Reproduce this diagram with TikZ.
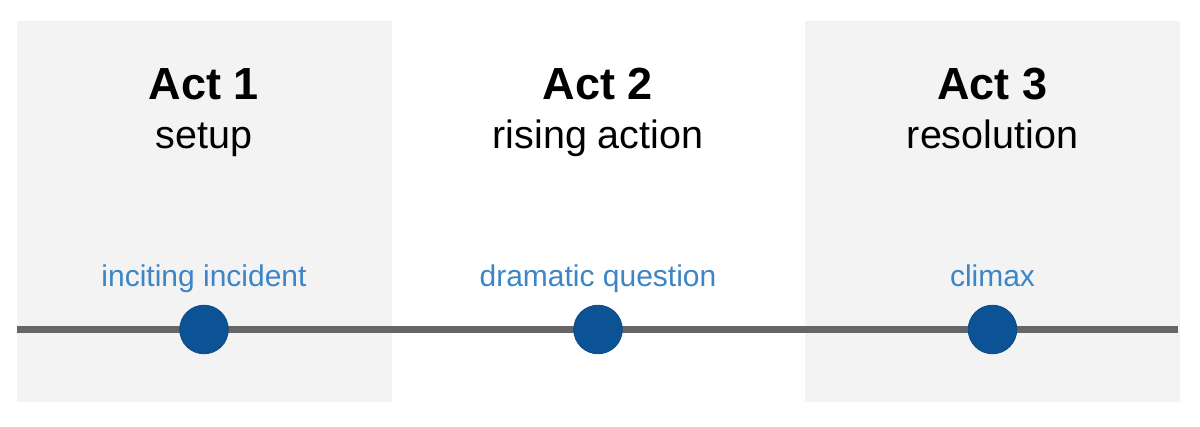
\documentclass[tikz,border=0pt]{standalone}
\usepackage{fontspec}
\setmainfont{Liberation Sans}
\usepackage{tikz}
\definecolor{fond}{HTML}{F3F3F3}
\definecolor{trait}{HTML}{666666}
\definecolor{bleu}{HTML}{0B5394}
\definecolor{bleuclair}{HTML}{3D85C6}
\usetikzlibrary{calc}
\tikzset{acte/.style={
    anchor=base,
    inner sep=0,
    font=\fontsize{45}{50}\selectfont\bfseries}}
\tikzset{soustitre/.style={
    anchor=base,
    inner sep=0,
    font=\fontsize{39.5}{45}\selectfont}}
\tikzset{evt/.style={
    anchor=base,
    inner sep=0,
    text=bleuclair,
    font=\fontsize{30}{34}\selectfont}}
\tikzset{point/.style={
    circle,
    minimum size=48.6pt,
    inner sep=0,
    fill=bleu,
    draw=bleu!90!black,
    line width=0.8pt}}
\tikzset{zone/.style={
    fill=fond,
    draw=none}}

\begin{document}
\begin{tikzpicture}[x=1pt, y=1pt]
  \useasboundingbox (0,0) rectangle (1200,426);
  \coordinate (P1) at (204,96.5);
\coordinate (P2) at (598,96.5);
\coordinate (P3) at (992.5,96.5);
\coordinate (L0) at (17,96.5);
\coordinate (L1) at (1178,96.5);

\fill[zone] (17,24) rectangle (392,405);
\fill[zone] (805,24) rectangle (1180,405);

\node[acte] (act1) at ($(P1)+(0,229.5)$) {Act 1};
\node[acte] (act2) at ($(P2)+(0,229.5)$) {Act 2};
\node[acte] (act3) at ($(P3)+(0,229.5)$) {Act 3};

\node[soustitre] (sub1) at ($(P1)+(0,180.5)$) {setup};
\node[soustitre] (sub2) at ($(P2)+(0,180.5)$) {rising action};
\node[soustitre] (sub3) at ($(P3)+(0,180.5)$) {resolution};

\node[evt] (evt1) at ($(P1)+(0,42.5)$) {inciting incident};
\node[evt] (evt2) at ($(P2)+(0,42.5)$) {dramatic question};
\node[evt] (evt3) at ($(P3)+(0,42.5)$) {climax};

  \draw[trait, line width=7pt] (L0) -- (L1);

  \node[point] (p1) at (P1) {};
  \node[point] (p2) at (P2) {};
  \node[point] (p3) at (P3) {};
\end{tikzpicture}
\end{document}
